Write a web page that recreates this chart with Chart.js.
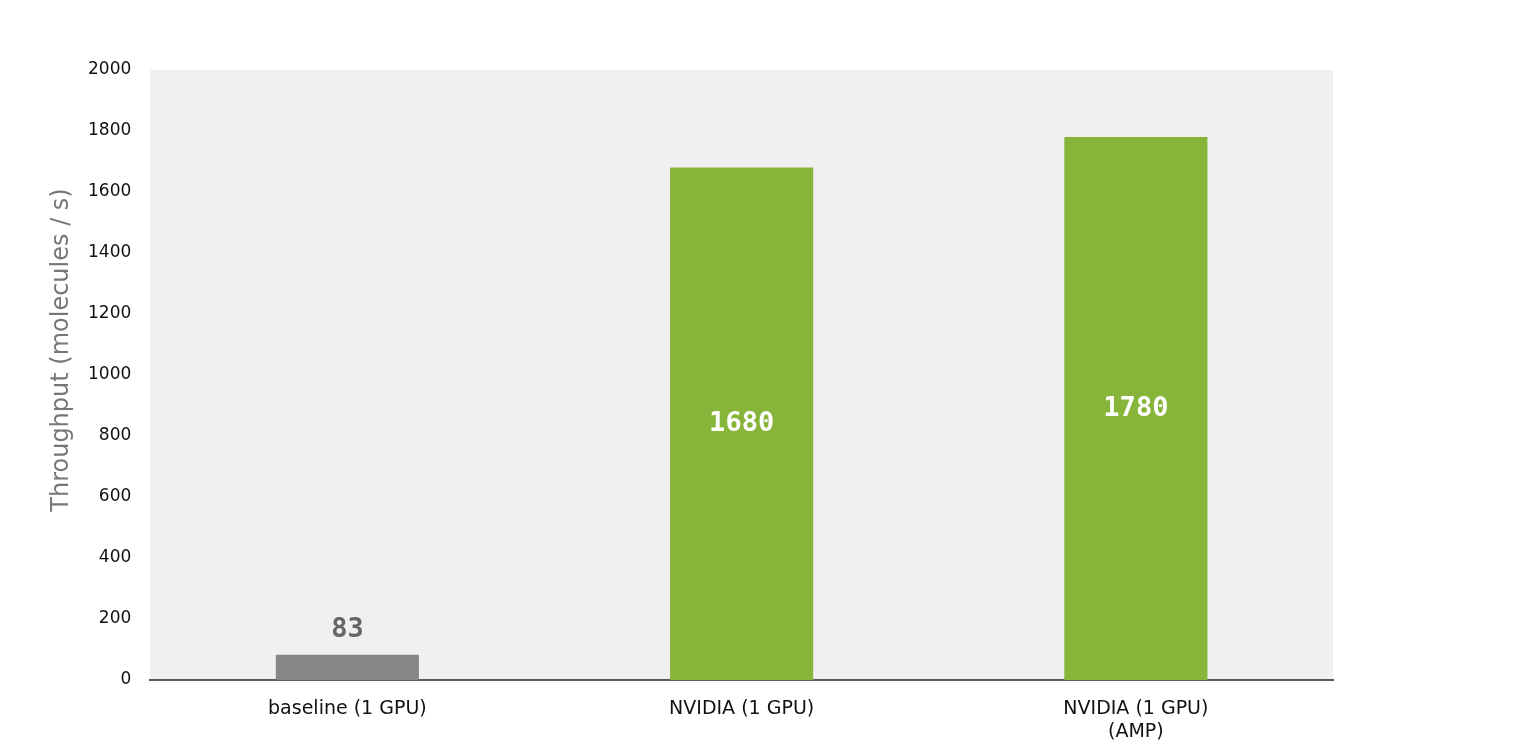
<!DOCTYPE html>
<html>
<head>
<meta charset="utf-8">
<script src="https://cdn.jsdelivr.net/npm/chart.js@4.4.1/dist/chart.umd.min.js"></script>
<style>
  html, body { margin: 0; padding: 0; background: #fff; }
  #wrap { width: 1536px; height: 755px; }
</style>
</head>
<body>
<div id="wrap"><canvas id="myChart"></canvas></div>
<script>
var categories = [["baseline (1 GPU)"], ["NVIDIA (1 GPU)"], ["NVIDIA (1 GPU)", "(AMP)"]];
var throughput = [83, 1680, 1780];
var barColors = ["#878787", "#87b53a", "#87b53a"];
var labelColors = ["#666666", "#ffffff", "#ffffff"];
var yTicks = [0, 200, 400, 600, 800, 1000, 1200, 1400, 1600, 1800, 2000];
var yTitle = "Throughput (molecules / s)";

// plot background, y title and bar value labels
var decor = {
    id: 'decor',
    beforeDraw: function (chart) {
        var a = chart.chartArea, ctx = chart.ctx;
        ctx.save();
        ctx.fillStyle = '#f0f0f1';
        ctx.fillRect(a.left, a.top, a.right - a.left, a.bottom - a.top);
        // axis title, sits a bit above the middle like the original
        ctx.translate(62, 350);
        ctx.rotate(-Math.PI / 2);
        ctx.font = '24px "DejaVu Sans"';
        ctx.fillStyle = '#777';
        ctx.textAlign = 'center';
        ctx.textBaseline = 'middle';
        ctx.fillText(yTitle, 0, 0);
        ctx.restore();
    },
    afterDatasetsDraw: function (chart) {
        var ctx = chart.ctx;
        var meta = chart.getDatasetMeta(0);
        var y = chart.scales.y;
        ctx.save();
        ctx.font = 'bold 27px "DejaVu Sans Mono"';
        ctx.textAlign = 'center';
        ctx.textBaseline = 'middle';
        meta.data.forEach(function (bar, i) {
            var v = throughput[i];
            ctx.fillStyle = labelColors[i];
            var py;
            if (v < 300) py = bar.y - 25;
            else py = (bar.y + y.getPixelForValue(0)) / 2;
            ctx.fillText(String(v), bar.x, py);
        });
        ctx.restore();
    }
};

new Chart("myChart", {
    type: "bar",
    data: {
        labels: categories,
        datasets: [{
            data: throughput,
            backgroundColor: barColors,
            categoryPercentage: 0.363,
            barPercentage: 1.0
        }]
    },
    plugins: [decor],
    options: {
        responsive: true,
        maintainAspectRatio: false,
        animation: false,
        layout: { padding: { top: 70, right: 203, left: 69, bottom: 5 } },
        plugins: {
            legend: { display: false },
            tooltip: { enabled: false }
        },
        scales: {
            x: {
                grid: { display: false, drawTicks: false },
                border: { display: true, color: '#5a5a5a', width: 2 },
                ticks: {
                    color: '#111',
                    font: { family: '"DejaVu Sans"', size: 19, lineHeight: 1.2 },
                    padding: 18
                },
                afterFit: function (axis) { axis.height = 70; }
            },
            y: {
                min: 0,
                max: 2000,
                afterBuildTicks: function (axis) {
                    axis.ticks = yTicks.map(function (v) { return { value: v }; });
                },
                grid: { display: false, drawTicks: false },
                border: { display: false },
                ticks: {
                    color: '#111',
                    font: { family: '"DejaVu Sans"', size: 17 },
                    padding: 19,
                    callback: function (v) { return String(v); }
                }
            }
        }
    }
});
</script>
</body>
</html>
